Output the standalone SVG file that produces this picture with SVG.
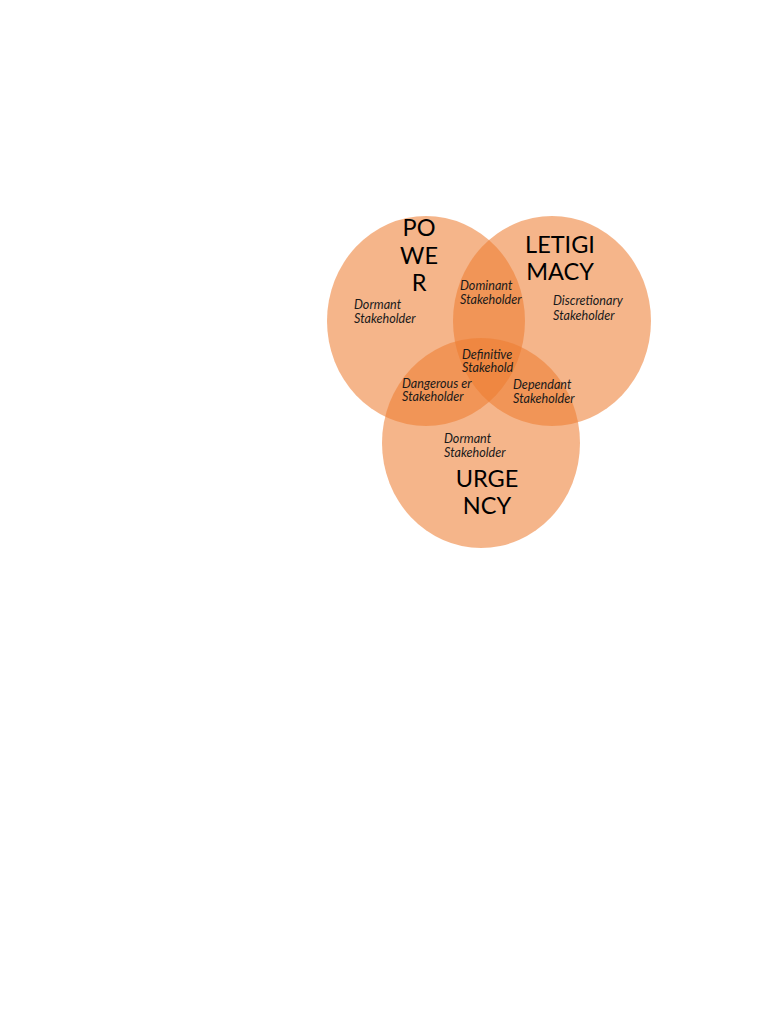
<svg xmlns="http://www.w3.org/2000/svg" width="768" height="1024" viewBox="0 0 768 1024">
<style>
.c{fill:#ED7D31;fill-opacity:0.57}
.big{font-family:Lato,"Open Sans",sans-serif;font-size:23.5px;fill:#000;text-anchor:middle}
.sm{font-family:Lato,"Open Sans",sans-serif;font-size:12.6px;font-style:italic;fill:#1a1a1a}
</style>
<rect width="768" height="1024" fill="#fff"/>
<g id="power"><ellipse class="c" cx="426" cy="321" rx="99" ry="105"/></g>
<g id="legitimacy"><ellipse class="c" cx="552" cy="321" rx="99" ry="105"/></g>
<g id="urgency"><ellipse class="c" cx="481" cy="443" rx="99" ry="105"/></g>
<g id="connectors"></g>
<g id="labels">
<text class="big" x="419" y="236">PO</text>
<text class="big" x="419" y="264">WE</text>
<text class="big" x="419" y="291">R</text>
<text class="big" x="560" y="253">LETIGI</text>
<text class="big" x="560" y="280">MACY</text>
<text class="big" x="487" y="487">URGE</text>
<text class="big" x="487" y="514">NCY</text>
<text class="sm" x="354" y="309">Dormant</text>
<text class="sm" x="354" y="323">Stakeholder</text>
<text class="sm" x="460" y="290">Dominant</text>
<text class="sm" x="460" y="304">Stakeholder</text>
<text class="sm" x="553" y="305">Discretionary</text>
<text class="sm" x="553" y="320">Stakeholder</text>
<text class="sm" x="462" y="359">Definitive</text>
<text class="sm" x="462" y="372">Stakehold</text>
<text class="sm" x="402" y="388">Dangerous er</text>
<text class="sm" x="402" y="401">Stakeholder</text>
<text class="sm" x="513" y="389">Dependant</text>
<text class="sm" x="513" y="403">Stakeholder</text>
<text class="sm" x="444" y="443">Dormant</text>
<text class="sm" x="444" y="457">Stakeholder</text>
</g>
</svg>
